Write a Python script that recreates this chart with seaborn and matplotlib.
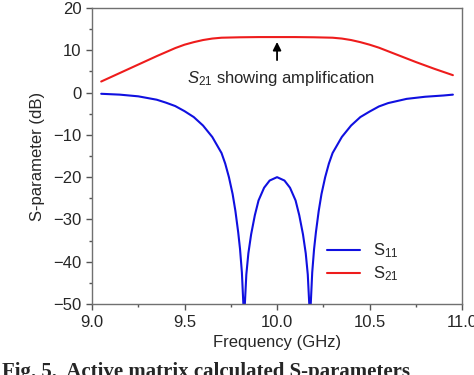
import pandas as pd
import numpy as np
import seaborn as sns
import matplotlib.pyplot as plt
from matplotlib.ticker import MultipleLocator

# S11
f11 = [9.05, 9.15, 9.25, 9.35, 9.40, 9.45, 9.50, 9.55, 9.60, 9.65, 9.70, 9.72,
       9.74, 9.76, 9.775, 9.79, 9.80, 9.81, 9.818, 9.822, 9.826, 9.834, 9.845,
       9.86, 9.88, 9.90, 9.93, 9.96, 10.00,
       10.04, 10.07, 10.10, 10.12, 10.14, 10.155, 10.166, 10.174, 10.178, 10.182,
       10.19, 10.20, 10.21, 10.225, 10.24, 10.26, 10.28, 10.30, 10.35, 10.40,
       10.45, 10.50, 10.55, 10.60, 10.65, 10.70, 10.80, 10.90, 10.95]
s11 = [-0.3, -0.5, -0.9, -1.7, -2.4, -3.2, -4.4, -5.8, -7.8, -10.5, -14.3, -16.8,
       -20.0, -24.0, -28.0, -33.0, -37.0, -42.5, -50.0, -58.0, -50.0, -43.0, -38.0,
       -33.5, -29.0, -25.5, -22.5, -20.8, -20.0,
       -20.8, -22.5, -25.5, -29.0, -33.5, -38.0, -43.0, -50.0, -58.0, -50.0,
       -42.5, -37.0, -33.0, -28.0, -24.0, -20.0, -16.8, -14.3, -10.5, -7.8,
       -5.8, -4.5, -3.3, -2.5, -2.0, -1.5, -1.0, -0.7, -0.5]

# S21
f21 = [9.05, 9.15, 9.25, 9.35, 9.45, 9.50, 9.55, 9.60, 9.65, 9.70, 9.80, 9.90,
       10.00, 10.10, 10.20, 10.30, 10.35, 10.40, 10.45, 10.50, 10.55, 10.65,
       10.75, 10.85, 10.95]
s21 = [2.6, 4.6, 6.6, 8.6, 10.5, 11.3, 11.9, 12.4, 12.75, 12.95, 13.05, 13.1,
       13.1, 13.1, 13.05, 12.95, 12.75, 12.4, 11.9, 11.3, 10.6, 8.9,
       7.2, 5.6, 4.1]

df = pd.concat([
    pd.DataFrame({"Frequency": f11, "S": s11, "param": "S$_{11}$"}),
    pd.DataFrame({"Frequency": f21, "S": s21, "param": "S$_{21}$"}),
])

sns.set_style("white")
plt.rcParams['font.family'] = ['Liberation Sans', 'DejaVu Sans']
plt.rcParams['mathtext.fontset'] = 'custom'
plt.rcParams['mathtext.rm'] = 'Liberation Sans'
plt.rcParams['mathtext.it'] = 'Liberation Sans:italic'

fig = plt.figure(figsize=(4.74, 3.75), dpi=100)
ax = fig.add_axes([0.194, 0.189, 0.781, 0.790])

sns.lineplot(data=df, x="Frequency", y="S", hue="param", sort=False,
             palette={"S$_{11}$": "#1010e0", "S$_{21}$": "#ee1c1c"},
             linewidth=1.5, ax=ax)

ax.set_xlim(9.0, 11.0)
ax.set_ylim(-50, 20)
ax.xaxis.set_major_locator(MultipleLocator(0.5))
ax.xaxis.set_minor_locator(MultipleLocator(0.25))
ax.yaxis.set_major_locator(MultipleLocator(10))
ax.yaxis.set_minor_locator(MultipleLocator(5))
ax.xaxis.set_major_formatter(plt.FuncFormatter(lambda v, p: f"{v:.1f}"))
ax.yaxis.set_major_formatter(plt.FuncFormatter(lambda v, p: f"{v:.0f}".replace("-", "\u2212")))
ax.tick_params(axis='both', which='major', direction='out', length=4, width=1,
               color='#555555', labelsize=12, bottom=True, left=True)
ax.tick_params(axis='both', which='minor', direction='out', length=2.5, width=1,
               color='#555555', bottom=True, left=True)
for sp in ax.spines.values():
    sp.set_color('#707070')
    sp.set_linewidth(1.0)

ax.set_xlabel("Frequency (GHz)", fontsize=12)
ax.set_ylabel("S-parameter (dB)", fontsize=12, labelpad=6)

ax.annotate("", xy=(10.0, 12.6), xytext=(10.0, 7.0),
            arrowprops=dict(arrowstyle="-|>", color="black", lw=1.3,
                            mutation_scale=12))
ax.text(10.02, 3.4, "$S_{21}$ showing amplification", ha="center", va="center",
        fontsize=12)

ax.legend(title=None, frameon=False, fontsize=12, loc="lower right",
          bbox_to_anchor=(0.87, 0.02), handlelength=2.0, labelspacing=0.25)

fig.text(0.004, 1 - 362 / 375, "Fig. 5.  Active matrix calculated S-parameters",
         fontsize=15, fontweight="bold", family="Liberation Serif", va="top")

fig.savefig("out.png", dpi=100)
